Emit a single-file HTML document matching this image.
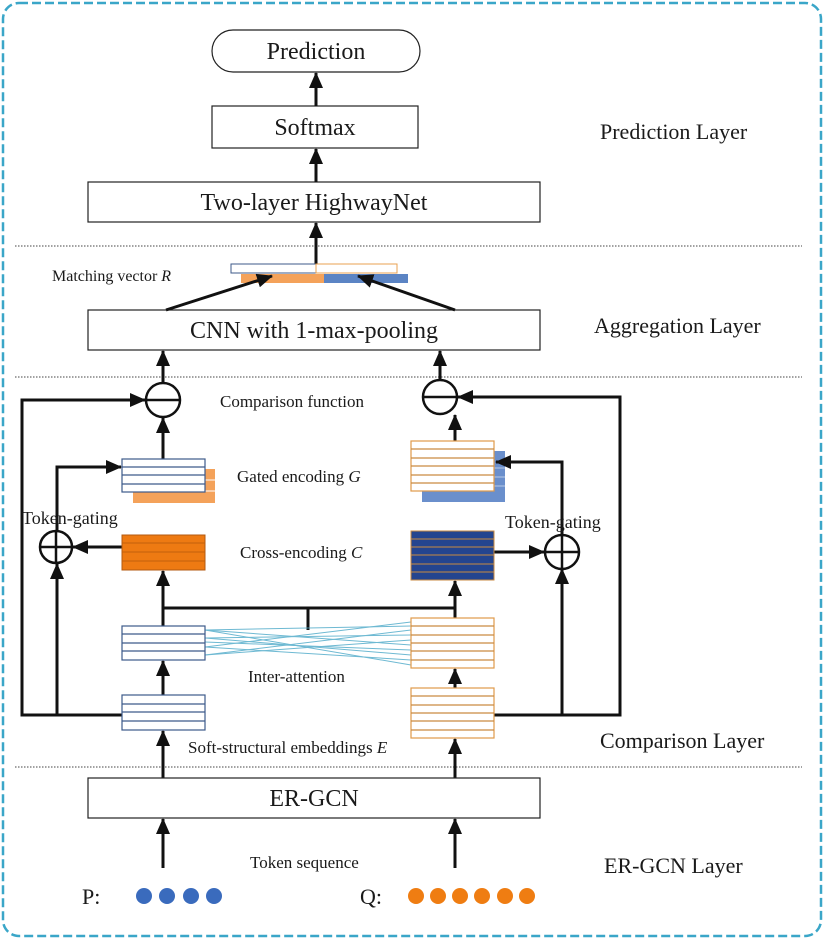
<!DOCTYPE html>
<html><head><meta charset="utf-8"><style>
html,body{margin:0;padding:0;background:#fff;}
svg text{font-family:"Liberation Serif",serif;fill:#1a1a1a;}
</style></head><body>
<svg width="825" height="940" viewBox="0 0 825 940" xmlns="http://www.w3.org/2000/svg">
<defs>
<marker id="a" markerWidth="16" markerHeight="14" refX="15" refY="7" orient="auto" markerUnits="userSpaceOnUse" viewBox="0 0 16 14"><path d="M0,0 L16,7 L0,14 z" fill="#111"/></marker>
</defs>
<style>
.ln{stroke:#111;stroke-width:3;fill:none;}
.bx{stroke:#222;stroke-width:1.2;fill:#fff;}
</style>
<rect x="3" y="3" width="818" height="933" rx="16" fill="none" stroke="#3aa6c8" stroke-width="2.5" stroke-dasharray="9,4"/>
<g stroke="#444" stroke-width="1" stroke-dasharray="1.5,1.5">
<line x1="15" y1="246" x2="802" y2="246"/>
<line x1="15" y1="377" x2="802" y2="377"/>
<line x1="15" y1="767" x2="802" y2="767"/>
</g>
<rect x="212" y="30" width="208" height="42" rx="21" class="bx"/>
<text x="316" y="59" font-size="24" text-anchor="middle">Prediction</text>
<rect x="212" y="106" width="206" height="42" class="bx"/>
<text x="315" y="135" font-size="24" text-anchor="middle">Softmax</text>
<rect x="88" y="182" width="452" height="40" class="bx"/>
<text x="314" y="210" font-size="24" text-anchor="middle">Two-layer HighwayNet</text>
<line x1="316" y1="106" x2="316" y2="73" class="ln" stroke-width="2.5" marker-end="url(#a)"/>
<line x1="316" y1="182" x2="316" y2="149" class="ln" stroke-width="2.5" marker-end="url(#a)"/>
<line x1="316" y1="266" x2="316" y2="223" class="ln" stroke-width="2.5" marker-end="url(#a)"/>
<text x="600" y="139" font-size="22">Prediction Layer</text>
<text x="52" y="281" font-size="16">Matching vector <tspan font-style="italic">R</tspan></text>
<rect x="241" y="274" width="83" height="9" fill="#f4a25a"/>
<rect x="324" y="274" width="84" height="9" fill="#5b84c4"/>
<rect x="231" y="264" width="85" height="9" fill="#fff" stroke="#3d5a8a" stroke-width="1"/>
<rect x="316" y="264" width="81" height="9" fill="#fff" stroke="#e8a050" stroke-width="1"/>
<rect x="88" y="310" width="452" height="40" class="bx"/>
<text x="314" y="338" font-size="24" text-anchor="middle">CNN with 1-max-pooling</text>
<line x1="166" y1="310" x2="272" y2="276" class="ln" marker-end="url(#a)"/>
<line x1="455" y1="310" x2="358" y2="276" class="ln" marker-end="url(#a)"/>
<text x="594" y="333" font-size="22">Aggregation Layer</text>
<line x1="163" y1="383" x2="163" y2="351" class="ln" marker-end="url(#a)"/>
<line x1="440" y1="380" x2="440" y2="351" class="ln" marker-end="url(#a)"/>
<circle cx="163" cy="400" r="17" fill="#fff" stroke="#111" stroke-width="2.5"/>
<line x1="146" y1="400" x2="180" y2="400" stroke="#111" stroke-width="2.5"/>
<circle cx="440" cy="397" r="17" fill="#fff" stroke="#111" stroke-width="2.5"/>
<line x1="423" y1="397" x2="457" y2="397" stroke="#111" stroke-width="2.5"/>
<text x="220" y="407" font-size="17">Comparison function</text>
<polyline points="122,715 22,715 22,400 145,400" class="ln" marker-end="url(#a)"/>
<polyline points="494,715 620,715 620,397 458,397" class="ln" marker-end="url(#a)"/>
<line x1="163" y1="459" x2="163" y2="418" class="ln" marker-end="url(#a)"/>
<line x1="455" y1="441" x2="455" y2="415" class="ln" marker-end="url(#a)"/>
<rect x="133" y="469" width="82" height="34" fill="#f4a25a"/>
<g stroke="#fff" stroke-width="1"><line x1="133" y1="480" x2="215" y2="480"/><line x1="133" y1="491" x2="215" y2="491"/></g>
<rect x="122" y="459" width="83" height="33" fill="#fff" stroke="#3d5a8a" stroke-width="1.2"/>
<g stroke="#3d5a8a" stroke-width="1.2"><line x1="122" y1="467" x2="205" y2="467"/><line x1="122" y1="475" x2="205" y2="475"/><line x1="122" y1="484" x2="205" y2="484"/></g>
<text x="237" y="482" font-size="17">Gated encoding <tspan font-style="italic">G</tspan></text>
<rect x="422" y="451" width="83" height="51" fill="#6a8fcc"/>
<g stroke="#b8cbe8" stroke-width="1"><line x1="422" y1="468" x2="505" y2="468"/><line x1="422" y1="477" x2="505" y2="477"/><line x1="422" y1="486" x2="505" y2="486"/></g>
<rect x="411" y="441" width="83" height="50" fill="#fff" stroke="#e09a4a" stroke-width="1.2"/>
<g stroke="#c98a40" stroke-width="1.2"><line x1="411" y1="449" x2="494" y2="449"/><line x1="411" y1="458" x2="494" y2="458"/><line x1="411" y1="466" x2="494" y2="466"/><line x1="411" y1="475" x2="494" y2="475"/><line x1="411" y1="483" x2="494" y2="483"/></g>
<polyline points="57,530 57,467 121,467" class="ln" marker-end="url(#a)"/>
<polyline points="562,535 562,462 496,462" class="ln" marker-end="url(#a)"/>
<line x1="57" y1="715" x2="57" y2="564" class="ln" marker-end="url(#a)"/>
<line x1="562" y1="715" x2="562" y2="569" class="ln" marker-end="url(#a)"/>
<circle cx="56" cy="547" r="16" fill="#fff" stroke="#111" stroke-width="2.5"/>
<line x1="40" y1="547" x2="72" y2="547" stroke="#111" stroke-width="2.5"/><line x1="56" y1="531" x2="56" y2="563" stroke="#111" stroke-width="2.5"/>
<circle cx="562" cy="552" r="17" fill="#fff" stroke="#111" stroke-width="2.5"/>
<line x1="545" y1="552" x2="579" y2="552" stroke="#111" stroke-width="2.5"/><line x1="562" y1="535" x2="562" y2="569" stroke="#111" stroke-width="2.5"/>
<text x="22" y="524" font-size="18">Token-gating</text>
<text x="505" y="528" font-size="18">Token-gating</text>
<line x1="122" y1="547" x2="73" y2="547" class="ln" marker-end="url(#a)"/>
<line x1="494" y1="552" x2="544" y2="552" class="ln" marker-end="url(#a)"/>
<rect x="122" y="535" width="83" height="35" fill="#ee7a12" stroke="#b35a10" stroke-width="1"/>
<g stroke="#c2600c" stroke-width="1"><line x1="122" y1="543" x2="205" y2="543"/><line x1="122" y1="552" x2="205" y2="552"/><line x1="122" y1="561" x2="205" y2="561"/></g>
<rect x="411" y="531" width="83" height="49" fill="#24458f" stroke="#c98a40" stroke-width="1"/>
<g stroke="#c98a40" stroke-width="1"><line x1="411" y1="539" x2="494" y2="539"/><line x1="411" y1="547" x2="494" y2="547"/><line x1="411" y1="555" x2="494" y2="555"/><line x1="411" y1="564" x2="494" y2="564"/><line x1="411" y1="572" x2="494" y2="572"/></g>
<text x="240" y="558" font-size="17">Cross-encoding <tspan font-style="italic">C</tspan></text>
<polyline points="163,630 163,608 455,608 455,618" class="ln"/>
<line x1="163" y1="608" x2="163" y2="571" class="ln" marker-end="url(#a)"/>
<line x1="455" y1="608" x2="455" y2="581" class="ln" marker-end="url(#a)"/>
<line x1="308" y1="608" x2="308" y2="630" class="ln"/>
<g stroke="#4aa8c8" stroke-width="1" opacity="0.8">
<line x1="205" y1="630" x2="411" y2="626"/><line x1="205" y1="630" x2="411" y2="645"/><line x1="205" y1="630" x2="411" y2="665"/>
<line x1="205" y1="638" x2="411" y2="635"/><line x1="205" y1="638" x2="411" y2="655"/>
<line x1="205" y1="647" x2="411" y2="622"/><line x1="205" y1="647" x2="411" y2="660"/>
<line x1="205" y1="655" x2="411" y2="630"/><line x1="205" y1="655" x2="411" y2="640"/>
<line x1="205" y1="642" x2="411" y2="650"/>
</g>
<rect x="122" y="626" width="83" height="34" fill="#fff" stroke="#3d5a8a" stroke-width="1.2"/>
<g stroke="#3d5a8a" stroke-width="1.2"><line x1="122" y1="634" x2="205" y2="634"/><line x1="122" y1="643" x2="205" y2="643"/><line x1="122" y1="651" x2="205" y2="651"/></g>
<rect x="411" y="618" width="83" height="50" fill="#fff" stroke="#e09a4a" stroke-width="1.2"/>
<g stroke="#c98a40" stroke-width="1.2"><line x1="411" y1="626" x2="494" y2="626"/><line x1="411" y1="635" x2="494" y2="635"/><line x1="411" y1="643" x2="494" y2="643"/><line x1="411" y1="651" x2="494" y2="651"/><line x1="411" y1="660" x2="494" y2="660"/></g>
<text x="248" y="682" font-size="17">Inter-attention</text>
<line x1="163" y1="695" x2="163" y2="661" class="ln" marker-end="url(#a)"/>
<line x1="455" y1="688" x2="455" y2="669" class="ln" marker-end="url(#a)"/>
<rect x="122" y="695" width="83" height="35" fill="#fff" stroke="#3d5a8a" stroke-width="1.2"/>
<g stroke="#3d5a8a" stroke-width="1.2"><line x1="122" y1="704" x2="205" y2="704"/><line x1="122" y1="712" x2="205" y2="712"/><line x1="122" y1="721" x2="205" y2="721"/></g>
<rect x="411" y="688" width="83" height="50" fill="#fff" stroke="#e09a4a" stroke-width="1.2"/>
<g stroke="#c98a40" stroke-width="1.2"><line x1="411" y1="696" x2="494" y2="696"/><line x1="411" y1="705" x2="494" y2="705"/><line x1="411" y1="713" x2="494" y2="713"/><line x1="411" y1="721" x2="494" y2="721"/><line x1="411" y1="730" x2="494" y2="730"/></g>
<text x="188" y="753" font-size="17">Soft-structural embeddings <tspan font-style="italic">E</tspan></text>
<line x1="163" y1="778" x2="163" y2="731" class="ln" marker-end="url(#a)"/>
<line x1="455" y1="778" x2="455" y2="739" class="ln" marker-end="url(#a)"/>
<text x="600" y="748" font-size="22">Comparison Layer</text>
<rect x="88" y="778" width="452" height="40" class="bx"/>
<text x="314" y="806" font-size="24" text-anchor="middle">ER-GCN</text>
<line x1="163" y1="868" x2="163" y2="819" class="ln" marker-end="url(#a)"/>
<line x1="455" y1="868" x2="455" y2="819" class="ln" marker-end="url(#a)"/>
<text x="250" y="868" font-size="17">Token sequence</text>
<text x="604" y="873" font-size="22">ER-GCN Layer</text>
<text x="82" y="904" font-size="22">P:</text>
<text x="360" y="904" font-size="22">Q:</text>
<g fill="#3a6bbd"><circle cx="144" cy="896" r="8"/><circle cx="167" cy="896" r="8"/><circle cx="191" cy="896" r="8"/><circle cx="214" cy="896" r="8"/></g>
<g fill="#ef7d12"><circle cx="416" cy="896" r="8"/><circle cx="438" cy="896" r="8"/><circle cx="460" cy="896" r="8"/><circle cx="482" cy="896" r="8"/><circle cx="505" cy="896" r="8"/><circle cx="527" cy="896" r="8"/></g>
</svg>
</body></html>
